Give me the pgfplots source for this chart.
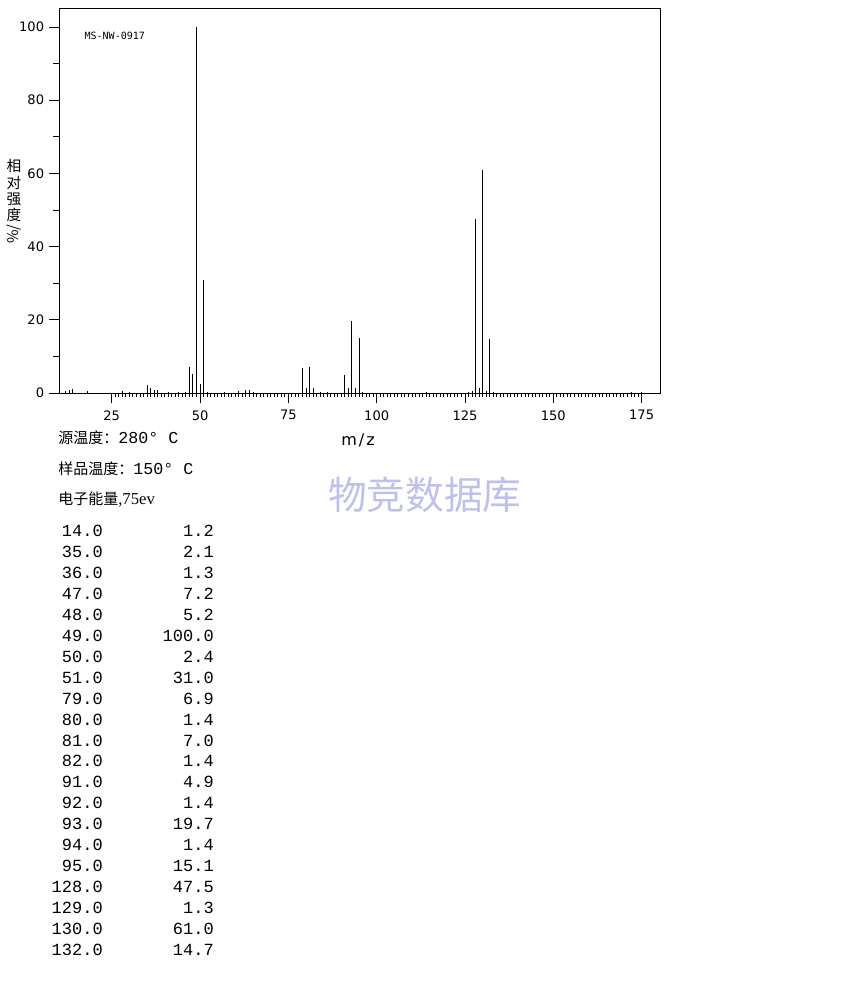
\documentclass[border=0pt]{standalone}
\usepackage{pgfplots}
\pgfplotsset{compat=1.18}
\usepackage{graphicx}
\usepackage{fontspec}
\setmainfont{DejaVu Sans}
\newfontfamily\cjk{Noto Sans CJK SC}
\newfontfamily\mono{Liberation Mono}
\newfontfamily\smallmono{DejaVu Sans Mono}
\definecolor{wm}{RGB}{192,192,232}

% m/z and relative intensity (%)
\pgfplotstableread{
mz int
12 0.5
13 0.8
14 1.2
18 0.5
28 0.5
30 0.4
35 2.1
36 1.3
37 0.8
38 0.8
41 0.4
44 0.4
46 0.3
47 7.2
48 5.2
49 100.0
50 2.4
51 31.0
52 0.4
57 0.4
61 0.5
63 0.8
64 0.8
65 0.4
79 6.9
80 1.4
81 7.0
82 1.4
84 0.4
86 0.4
91 4.9
92 1.4
93 19.7
94 1.4
95 15.1
96 0.4
114 0.3
126 0.4
127 0.6
128 47.5
129 1.3
130 61.0
131 0.6
132 14.7
133 0.4
172 0.3
175 0.3
}\spectrum

\begin{document}
\begin{tikzpicture}
\useasboundingbox (0,0) rectangle (637.5pt,-744pt);
\begin{axis}[
  scale only axis,
  width=450.4pt, height=288.75pt,
  at={(44.6pt,-294.75pt)}, anchor=south west,
  xmin=10.2, xmax=180.2, ymin=0, ymax=105.2,
  axis line style={line width=0.75pt},
  tick style={black, line width=0.75pt},
  tick align=outside, tick pos=left,
  xtick={25,50,...,175}, minor x tick num=24,
  ytick={0,20,...,100},
  extra y ticks={10,30,...,90},
  extra y tick labels={},
  extra y tick style={major tick length=4.5pt},
  major tick length=7.5pt, minor tick length=3pt,
  /pgf/number format/assume math mode=true,
  tick label style={font=\fontsize{9.8}{11}\selectfont},
  x tick label style={yshift=-2pt},
  y tick label style={xshift=-0.5pt},
]
\addplot[ycomb, black, line width=0.75pt, mark=none] table[x=mz, y=int] {\spectrum};
\node[anchor=west, font=\smallmono\fontsize{7.5}{8}\selectfont] at (axis cs:16,97.6) {MS-NW-0917};
\end{axis}

% axis titles
\node[font=\fontsize{12}{14}\selectfont] at (268.5pt,-330pt) {m\hspace{1.5pt}/\hspace{1.5pt}z};
\node[font=\cjk\fontsize{11}{12.2}\selectfont, align=center, anchor=north, inner sep=0pt]
  at (10.5pt,-119.5pt) {相\\对\\强\\度\\[1pt]\rotatebox{90}{\%/}};

% conditions
\begin{scope}[every node/.style={anchor=base west, inner sep=0pt, font=\cjk\fontsize{11.25}{13}\selectfont}]
\node at (43.5pt,-332.5pt) {源温度：{\mono\fontsize{12.5}{13}\selectfont 280° C}};
\node at (43.5pt,-355.5pt) {样品温度：{\mono\fontsize{12.5}{13}\selectfont 150° C}};
\node at (43.5pt,-378.7pt) {电子能量{\fontspec{Liberation Serif}\fontsize{12.5}{13}\selectfont ,75ev}};
\end{scope}

% watermark
\node[text=wm, font=\cjk\fontsize{29}{30}\selectfont] at (318.5pt,-371.25pt) {物竞数据库};

% peak list
\foreach \m/\v [count=\i from 0] in {14.0/1.2,35.0/2.1,36.0/1.3,47.0/7.2,48.0/5.2,49.0/100.0,
  50.0/2.4,51.0/31.0,79.0/6.9,80.0/1.4,81.0/7.0,82.0/1.4,91.0/4.9,92.0/1.4,93.0/19.7,
  94.0/1.4,95.0/15.1,128.0/47.5,129.0/1.3,130.0/61.0,132.0/14.7}{
  \pgfmathsetmacro\yy{-(536.5+20.95*\i)*0.75}
  \node[anchor=base east, inner sep=0pt, font=\mono\fontsize{12.75}{14}\selectfont] at (77.25pt,\yy pt) {\m};
  \node[anchor=base east, inner sep=0pt, font=\mono\fontsize{12.75}{14}\selectfont] at (160.5pt,\yy pt) {\v};
}
\end{tikzpicture}
\end{document}
